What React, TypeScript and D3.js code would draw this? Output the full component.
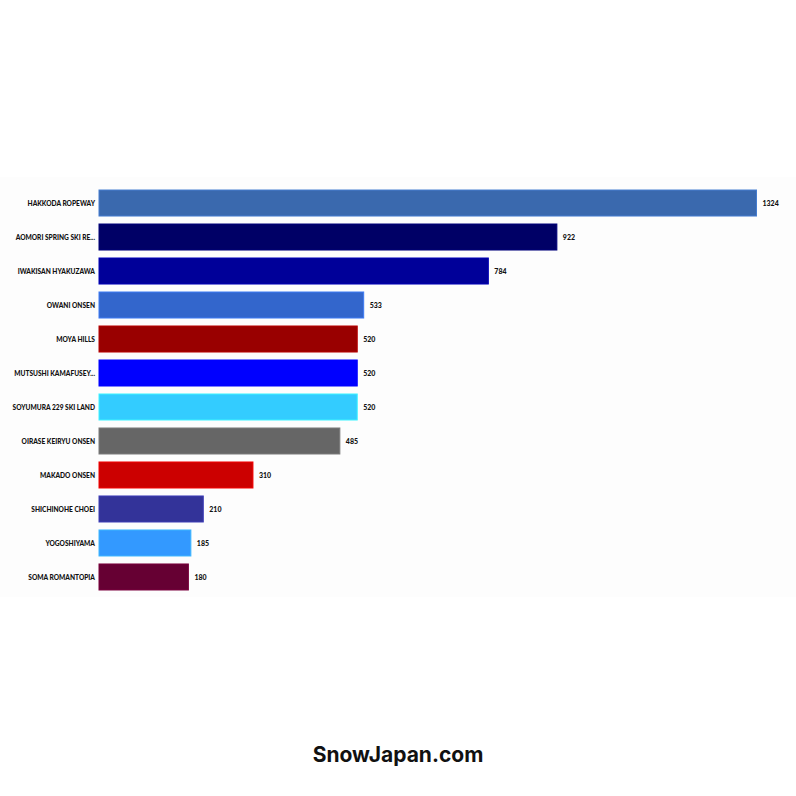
import React from "react";
import * as d3 from "d3";

const categories = [
  "HAKKODA ROPEWAY",
  "AOMORI SPRING SKI RE...",
  "IWAKISAN HYAKUZAWA",
  "OWANI ONSEN",
  "MOYA HILLS",
  "MUTSUSHI KAMAFUSEY...",
  "SOYUMURA 229 SKI LAND",
  "OIRASE KEIRYU ONSEN",
  "MAKADO ONSEN",
  "SHICHINOHE CHOEI",
  "YOGOSHIYAMA",
  "SOMA ROMANTOPIA",
];
const values = [1324, 922, 784, 533, 520, 520, 520, 485, 310, 210, 185, 180];
const colors = [
  "#3a69ae",
  "#000066",
  "#000099",
  "#3366cc",
  "#990000",
  "#0000ff",
  "#33ccff",
  "#666666",
  "#cc0000",
  "#333399",
  "#3399ff",
  "#660033",
];

export default function App() {
  const W = 796;
  const H = 796;
  const x0 = 99;
  const x = d3.scaleLinear().domain([0, 1324]).range([x0, 756.5]);
  const y = d3
    .scaleBand<string>()
    .domain(categories)
    .range([186, 594])
    .paddingInner(0.235)
    .paddingOuter(0.118);
  const bw = y.bandwidth();
  return (
    <svg
      width={W}
      height={H}
      style={{ position: "absolute", left: 0, top: 0, background: "#ffffff" }}
    >
      <rect x={0} y={177} width={W} height={420} fill="#fdfdfd" />
      {categories.map((c, i) => {
        const yy = y(c)!;
        const v = values[i];
        const col = d3.color(colors[i])!;
        return (
          <g key={c}>
            <rect
              x={x(0)}
              y={yy}
              width={x(v) - x(0)}
              height={bw}
              fill={colors[i]}
              stroke={col.brighter(0.5).toString()}
              strokeWidth={1}
            />
            <text
              x={x0 - 4}
              y={yy + bw / 2}
              textAnchor="end"
              dominantBaseline="central"
              fontFamily="Lato, 'Open Sans', sans-serif"
              fontWeight={900}
              fontSize={6.6}
              fill="#111"
            >
              {c}
            </text>
            <text
              x={x(v) + 6}
              y={yy + bw / 2}
              textAnchor="start"
              dominantBaseline="central"
              fontFamily="Lato, 'Open Sans', sans-serif"
              fontWeight={900}
              fontSize={7}
              fill="#111"
            >
              {v}
            </text>
          </g>
        );
      })}
      <text
        x={W / 2}
        y={754}
        textAnchor="middle"
        dominantBaseline="central"
        fontFamily="Inter, 'Open Sans', sans-serif"
        fontWeight={700}
        fontSize={21}
        fill="#111"
      >
        SnowJapan.com
      </text>
    </svg>
  );
}
